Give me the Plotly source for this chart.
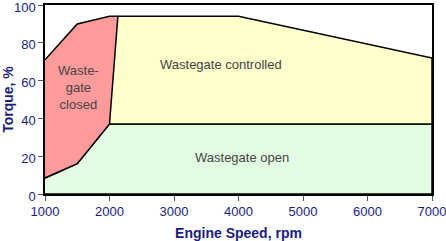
import plotly.graph_objects as go

# Data (engine speed rpm, torque %)
closed_x = [1000, 1500, 2000, 2130, 2000, 1500, 1000]
closed_y = [8.5, 16, 37, 94, 94, 90, 71]

controlled_x = [2000, 7000, 7000, 4000, 2130]
controlled_y = [37, 37, 72, 94, 94]

open_x = [1000, 7000, 7000, 2000, 1500, 1000]
open_y = [0, 0, 37, 37, 16, 8.5]

x_ticks = [1000, 2000, 3000, 4000, 5000, 6000, 7000]
y_ticks = [0, 20, 40, 60, 80, 100]

labels = ["Waste-<br>gate<br>closed", "Wastegate controlled", "Wastegate open"]
label_x = [1520, 3730, 4050]
label_y = [56.5, 68.3, 19.4]

fig = go.Figure()
for xs, ys, col in [(open_x, open_y, "#e3fde3"), (controlled_x, controlled_y, "#ffffcc"),
                    (closed_x, closed_y, "#ff9b9b")]:
    fig.add_trace(go.Scatter(x=xs, y=ys, fill="toself", fillcolor=col, mode="lines",
                             line=dict(color="black", width=1.5), hoverinfo="skip",
                             showlegend=False))

for t, xx, yy in zip(labels, label_x, label_y):
    fig.add_annotation(x=xx, y=yy, text=t, showarrow=False,
                       font=dict(family="Liberation Sans, Arial", size=13, color="#444444"))

axis_common = dict(showgrid=False, zeroline=False, showline=True, linecolor="black",
                   linewidth=1.5, mirror=True, ticks="outside", tickcolor="#555555",
                   ticklen=5, ticklabeloverflow="allow", automargin=False,
                   tickfont=dict(family="Liberation Sans, Arial", size=13, color="#1c1c80"))

fig.update_xaxes(range=[1000, 7000], tickvals=x_ticks, **axis_common,
                 title=dict(text="<b>Engine Speed, rpm</b>", standoff=10,
                            font=dict(family="Liberation Sans, Arial", size=14, color="#1c1c80")))
fig.update_yaxes(range=[0, 100], tickvals=y_ticks, ticklabelshift=2, **axis_common,
                 title=dict(text="<b>Torque, %</b>", standoff=4,
                            font=dict(family="Liberation Sans, Arial", size=14, color="#1c1c80")))

fig.update_layout(width=446, height=241, margin=dict(l=45, r=14, t=5, b=47),
                  plot_bgcolor="white", paper_bgcolor="white")

fig.write_html("out.html")
